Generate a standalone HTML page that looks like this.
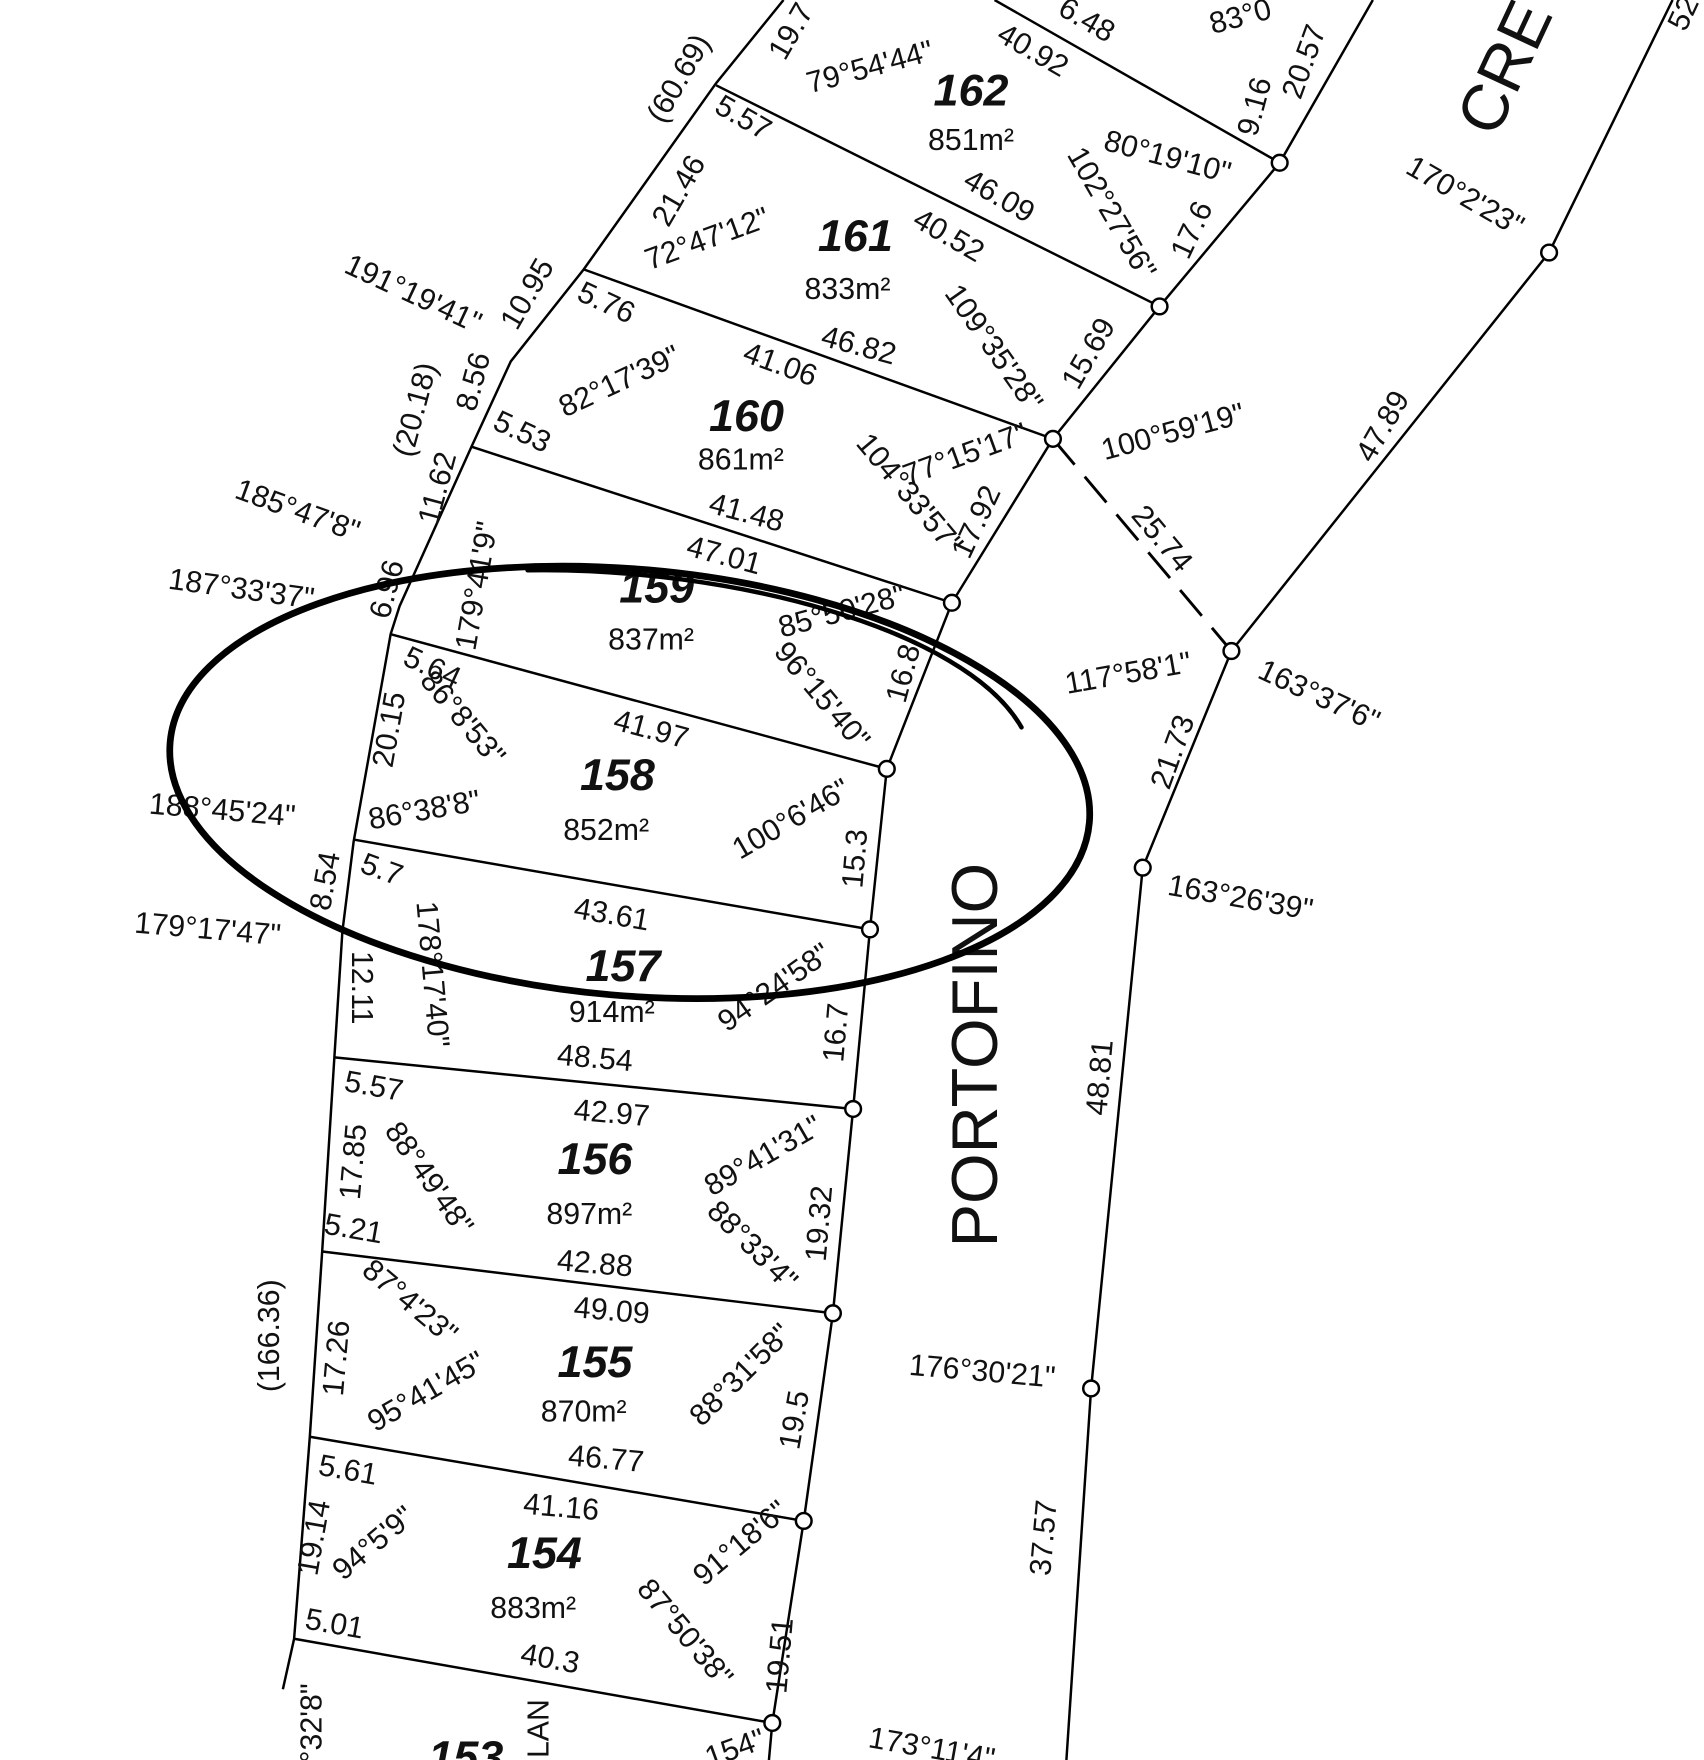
<!DOCTYPE html>
<html><head><meta charset="utf-8"><style>
html,body{margin:0;padding:0;background:#fff;}
svg{display:block;}
text{font-family:"Liberation Sans",sans-serif;font-size:27px;fill:#111;text-anchor:middle;dominant-baseline:central;}
.n{font-size:40px;font-weight:bold;font-style:italic;}
.big{font-size:58px;}
</style></head><body>
<svg width="1704" height="1760" viewBox="0 0 1518 1568" preserveAspectRatio="none" xmlns="http://www.w3.org/2000/svg">
<rect width="1518" height="1568" fill="#fff"/>
<g stroke="#000" stroke-width="2.2" fill="none">
<polyline points="698,0 638,74 520,240 455,322 420,398 356,540 348,565 315,750 305,830 298,940 287,1115 276,1280 262,1460 252,1505"/>
<polyline points="1223,0 1140,145 1033,273 938,391 848,537 790,685 775,828 760,988 742,1170 716,1355 688,1535 685,1568"/>
<line x1="886" y1="0" x2="1140" y2="145"/>
<line x1="638" y1="76" x2="1033" y2="273"/>
<line x1="520" y1="240" x2="938" y2="391"/>
<line x1="420" y1="398" x2="848" y2="537"/>
<line x1="348" y1="565" x2="790" y2="685"/>
<line x1="315" y1="748" x2="775" y2="828"/>
<line x1="298" y1="942" x2="760" y2="988"/>
<line x1="287" y1="1115" x2="742" y2="1170"/>
<line x1="276" y1="1280" x2="716" y2="1355"/>
<line x1="262" y1="1460" x2="688" y2="1535"/>
<polyline points="1490,0 1380,225 1097,580 1018,773 972,1237 950,1568"/>
<line x1="938" y1="391" x2="1097" y2="580" stroke-dasharray="30,14" stroke-width="2.6"/>
</g>
<g stroke="#000" stroke-width="2.2" fill="#fff">
<circle cx="1140" cy="145" r="7"/><circle cx="1033" cy="273" r="7"/><circle cx="938" cy="391" r="7"/>
<circle cx="848" cy="537" r="7"/><circle cx="790" cy="685" r="7"/><circle cx="775" cy="828" r="7"/>
<circle cx="760" cy="988" r="7"/><circle cx="742" cy="1170" r="7"/><circle cx="716" cy="1355" r="7"/>
<circle cx="688" cy="1535" r="7"/><circle cx="1380" cy="225" r="7"/><circle cx="1097" cy="580" r="7"/>
<circle cx="1018" cy="773" r="7"/><circle cx="972" cy="1237" r="7"/>
</g>
<g>
<text x="605" y="70" transform="rotate(-60 605 70)">(60.69)</text>
<text x="705" y="28" transform="rotate(-60 705 28)">19.7</text>
<text x="775" y="60" transform="rotate(-15 775 60)">79°54'44"</text>
<text x="920" y="45" transform="rotate(30 920 45)">40.92</text>
<text x="968" y="18" transform="rotate(30 968 18)">6.48</text>
<text x="1105" y="15" transform="rotate(-15 1105 15)">83°0</text>
<text x="1118" y="95" transform="rotate(-75 1118 95)">9.16</text>
<text x="1162" y="55" transform="rotate(-70 1162 55)">20.57</text>
<text class="n" x="865" y="80">162</text>
<text x="865" y="125">851m²</text>
<text x="890" y="175" transform="rotate(30 890 175)">46.09</text>
<text x="662" y="105" transform="rotate(30 662 105)">5.57</text>
<text x="1040" y="140" transform="rotate(15 1040 140)">80°19'10"</text>
<text x="990" y="190" transform="rotate(60 990 190)">102°27'56"</text>
<text x="1062" y="205" transform="rotate(-65 1062 205)">17.6</text>
<text class="big" x="1340" y="60" transform="rotate(-65 1340 60)">CRE</text>
<text x="1500" y="12" transform="rotate(-65 1500 12)">52</text>
<text x="1305" y="175" transform="rotate(30 1305 175)">170°2'23"</text>
<text x="605" y="170" transform="rotate(-60 605 170)">21.46</text>
<text x="630" y="213" transform="rotate(-20 630 213)">72°47'12"</text>
<text class="n" x="762" y="210">161</text>
<text x="845" y="210" transform="rotate(30 845 210)">40.52</text>
<text x="755" y="258">833m²</text>
<text x="765" y="308" transform="rotate(15 765 308)">46.82</text>
<text x="885" y="310" transform="rotate(55 885 310)">109°35'28"</text>
<text x="970" y="315" transform="rotate(-60 970 315)">15.69</text>
<text x="368" y="262" transform="rotate(25 368 262)">191°19'41"</text>
<text x="470" y="262" transform="rotate(-60 470 262)">10.95</text>
<text x="540" y="270" transform="rotate(25 540 270)">5.76</text>
<text x="552" y="340" transform="rotate(-25 552 340)">82°17'39"</text>
<text x="695" y="325" transform="rotate(20 695 325)">41.06</text>
<text class="n" x="665" y="370">160</text>
<text x="660" y="410">861m²</text>
<text x="665" y="457" transform="rotate(15 665 457)">41.48</text>
<text x="810" y="440" transform="rotate(50 810 440)">104°33'57"</text>
<text x="860" y="405" transform="rotate(-20 860 405)">77°15'17"</text>
<text x="870" y="465" transform="rotate(-65 870 465)">17.92</text>
<text x="1045" y="385" transform="rotate(-15 1045 385)">100°59'19"</text>
<text x="1035" y="480" transform="rotate(50 1035 480)">25.74</text>
<text x="1232" y="380" transform="rotate(-60 1232 380)">47.89</text>
<text x="370" y="365" transform="rotate(-75 370 365)">(20.18)</text>
<text x="422" y="340" transform="rotate(-75 422 340)">8.56</text>
<text x="390" y="435" transform="rotate(-75 390 435)">11.62</text>
<text x="465" y="385" transform="rotate(25 465 385)">5.53</text>
<text x="265" y="455" transform="rotate(20 265 455)">185°47'8"</text>
<text x="345" y="525" transform="rotate(-75 345 525)">6.96</text>
<text x="215" y="525" transform="rotate(8 215 525)">187°33'37"</text>
<text x="425" y="522" transform="rotate(-80 425 522)">179°41'9"</text>
<text x="645" y="495" transform="rotate(15 645 495)">47.01</text>
<text class="n" x="585" y="523">159</text>
<text x="580" y="570">837m²</text>
<text x="750" y="545" transform="rotate(-15 750 545)">85°50'28"</text>
<text x="732" y="620" transform="rotate(50 732 620)">96°15'40"</text>
<text x="805" y="600" transform="rotate(-75 805 600)">16.8</text>
<text x="1005" y="600" transform="rotate(-10 1005 600)">117°58'1"</text>
<text x="1175" y="620" transform="rotate(25 1175 620)">163°37'6"</text>
<text x="1045" y="670" transform="rotate(-70 1045 670)">21.73</text>
<text x="385" y="595" transform="rotate(25 385 595)">5.64</text>
<text x="347" y="650" transform="rotate(-80 347 650)">20.15</text>
<text x="412" y="640" transform="rotate(50 412 640)">86°8'53"</text>
<text x="580" y="650" transform="rotate(15 580 650)">41.97</text>
<text class="n" x="550" y="690">158</text>
<text x="540" y="740">852m²</text>
<text x="378" y="722" transform="rotate(-10 378 722)">86°38'8"</text>
<text x="705" y="730" transform="rotate(-30 705 730)">100°6'46"</text>
<text x="198" y="722" transform="rotate(5 198 722)">188°45'24"</text>
<text x="290" y="785" transform="rotate(-80 290 785)">8.54</text>
<text x="762" y="765" transform="rotate(-85 762 765)">15.3</text>
<text x="1105" y="800" transform="rotate(10 1105 800)">163°26'39"</text>
<text x="340" y="775" transform="rotate(20 340 775)">5.7</text>
<text x="385" y="868" transform="rotate(85 385 868)">178°17'40"</text>
<text x="185" y="828" transform="rotate(5 185 828)">179°17'47"</text>
<text x="545" y="815" transform="rotate(10 545 815)">43.61</text>
<text class="n" x="555" y="860">157</text>
<text x="545" y="902">914m²</text>
<text x="690" y="880" transform="rotate(-35 690 880)">94°24'58"</text>
<text x="322" y="880" transform="rotate(90 322 880)">12.11</text>
<text x="530" y="943" transform="rotate(5 530 943)">48.54</text>
<text x="745" y="920" transform="rotate(-85 745 920)">16.7</text>
<text class="big" x="868" y="940" transform="rotate(-90 868 940)">PORTOFINO</text>
<text x="980" y="960" transform="rotate(-85 980 960)">48.81</text>
<text x="333" y="968" transform="rotate(10 333 968)">5.57</text>
<text x="545" y="992" transform="rotate(5 545 992)">42.97</text>
<text class="n" x="530" y="1032">156</text>
<text x="680" y="1030" transform="rotate(-30 680 1030)">89°41'31"</text>
<text x="315" y="1035" transform="rotate(-85 315 1035)">17.85</text>
<text x="382" y="1050" transform="rotate(55 382 1050)">88°49'48"</text>
<text x="525" y="1082">897m²</text>
<text x="670" y="1110" transform="rotate(45 670 1110)">88°33'4"</text>
<text x="730" y="1090" transform="rotate(-85 730 1090)">19.32</text>
<text x="315" y="1095" transform="rotate(10 315 1095)">5.21</text>
<text x="530" y="1126" transform="rotate(5 530 1126)">42.88</text>
<text x="365" y="1160" transform="rotate(40 365 1160)">87°4'23"</text>
<text x="545" y="1168" transform="rotate(5 545 1168)">49.09</text>
<text class="n" x="530" y="1213">155</text>
<text x="875" y="1222" transform="rotate(5 875 1222)">176°30'21"</text>
<text x="300" y="1210" transform="rotate(-85 300 1210)">17.26</text>
<text x="380" y="1240" transform="rotate(-30 380 1240)">95°41'45"</text>
<text x="520" y="1258">870m²</text>
<text x="660" y="1225" transform="rotate(-45 660 1225)">88°31'58"</text>
<text x="708" y="1265" transform="rotate(-80 708 1265)">19.5</text>
<text x="540" y="1300" transform="rotate(5 540 1300)">46.77</text>
<text x="240" y="1190" transform="rotate(-90 240 1190)">(166.36)</text>
<text x="310" y="1310" transform="rotate(10 310 1310)">5.61</text>
<text x="500" y="1343" transform="rotate(5 500 1343)">41.16</text>
<text class="n" x="485" y="1383">154</text>
<text x="280" y="1370" transform="rotate(-80 280 1370)">19.14</text>
<text x="333" y="1375" transform="rotate(-40 333 1375)">94°5'9"</text>
<text x="660" y="1375" transform="rotate(-40 660 1375)">91°18'6"</text>
<text x="475" y="1433">883m²</text>
<text x="610" y="1455" transform="rotate(50 610 1455)">87°50'38"</text>
<text x="930" y="1370" transform="rotate(-85 930 1370)">37.57</text>
<text x="298" y="1447" transform="rotate(10 298 1447)">5.01</text>
<text x="695" y="1475" transform="rotate(-85 695 1475)">19.51</text>
<text x="490" y="1478" transform="rotate(10 490 1478)">40.3</text>
<text x="278" y="1535" transform="rotate(-90 278 1535)">°32'8"</text>
<text class="n" x="415" y="1565">153</text>
<text x="480" y="1540" transform="rotate(-90 480 1540)">LAN</text>
<text x="655" y="1558" transform="rotate(-20 655 1558)">154"</text>
<text x="830" y="1558" transform="rotate(10 830 1558)">173°11'4"</text>
</g>
<g fill="none" stroke="#000" stroke-linecap="round">
<ellipse cx="561" cy="697" rx="411" ry="190" transform="rotate(5 561 697)" stroke-width="6"/>
<path d="M470,508 C650,505 860,560 910,648" stroke-width="4"/>
</g>
</svg>
</body></html>
